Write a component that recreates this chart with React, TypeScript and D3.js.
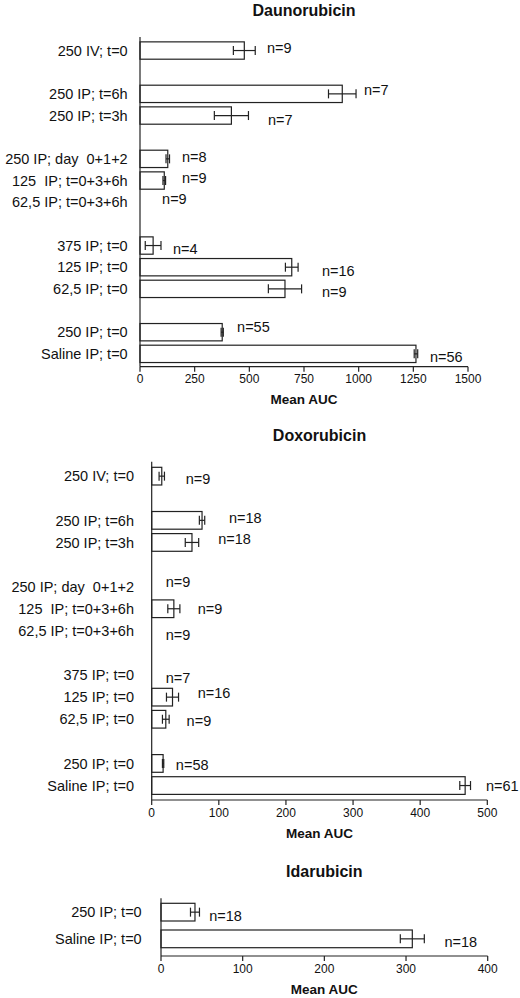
import React from "react";
import * as d3 from "d3";

// ---------- DATA ----------
const treatmentCategories = [
  "250 IV; t=0",
  "250 IP; t=6h",
  "250 IP; t=3h",
  "250 IP; day  0+1+2",
  "125  IP; t=0+3+6h",
  "62,5 IP; t=0+3+6h",
  "375 IP; t=0",
  "125 IP; t=0",
  "62,5 IP; t=0",
  "250 IP; t=0",
  "Saline IP; t=0",
];
const treatmentGroups = [0, 1, 1, 2, 2, 2, 3, 3, 3, 4, 4];

const dauMean = [477, 925, 418, 127, 111, null, 60, 694, 663, 376, 1262];
const dauErr = [50, 63, 78, 8, 6, null, 36, 29, 76, 5, 8];
const dauN = [9, 7, 7, 8, 9, 9, 4, 16, 9, 55, 56];
const dauNAnchor = [581, 1024, 585, 192, 192, 101, 151, 832, 832, 444, 1326];
const dauNShift = [-2.5, -4, 4.5, -2, -2.5, -3, 3.5, 3.5, 3, -5.5, 3];
const dauTicks = [0, 250, 500, 750, 1000, 1250, 1500];

const doxMean = [15, 75, 60, null, 33, null, null, 31, 21, 17, 467];
const doxErr = [4, 4, 10, null, 9, null, null, 9, 5, 1, 8];
const doxN = [9, 18, 18, 9, 9, 9, 7, 16, 9, 58, 61];
const doxNAnchor = [50.7, 115, 99, 21, 68.5, 21, 21, 68.5, 52, 36, 498];
const doxNShift = [3, -3, -4, -4.5, 0.5, 4, 3, -4, 2, 1, 0];
const doxTicks = [0, 100, 200, 300, 400, 500];

const idaCategories = ["250 IP; t=0", "Saline IP; t=0"];
const idaGroups = [0, 0];
const idaMean = [41.6, 307.7];
const idaErr = [5.5, 14.7];
const idaN = [18, 18];
const idaNAnchor = [59, 347];
const idaNShift = [4, 3];
const idaTicks = [0, 100, 200, 300, 400];

// ---------- LAYOUT ----------
const FONT = "'Liberation Sans', Arial, Helvetica, sans-serif";
const INK = "#222";

type PanelProps = {
  title: string;
  categories: string[];
  groups: number[];
  mean: (number | null)[];
  err: (number | null)[];
  n: number[];
  nAnchor: number[];
  nShift: number[];
  ticks: number[];
  xRange: [number, number];
  bandRange: [number, number];
  axisTop: number;
  axisY: number;
  labelRight: number;
  padInner: number;
};

function Panel(p: PanelProps) {
  const x = d3
    .scaleLinear()
    .domain([p.ticks[0], p.ticks[p.ticks.length - 1]])
    .range(p.xRange);
  const slotKeys = p.categories.map((_, i) => String(i + p.groups[i]));
  const nSlots = p.categories.length + p.groups[p.groups.length - 1];
  const y = d3
    .scaleBand<string>()
    .domain(d3.range(nSlots).map(String))
    .range(p.bandRange)
    .paddingInner(p.padInner)
    .paddingOuter(p.padInner / 2);
  const bw = y.bandwidth();
  const cap = 9;
  const x0 = p.xRange[0];
  const xMid = (p.xRange[0] + p.xRange[1]) / 2;

  return (
    <g>
      <text
        x={xMid}
        y={p.axisTop - 21}
        textAnchor="middle"
        fontWeight="bold"
        fontSize={16}
        fill="#111"
      >
        {p.title}
      </text>
      {/* category labels */}
      {p.categories.map((c, i) => (
        <text
          key={"l" + i}
          x={p.labelRight}
          y={(y(slotKeys[i]) as number) + bw / 2}
          dy="0.36em"
          textAnchor="end"
          fontSize={14.5}
          fill="#111"
          style={{ whiteSpace: "pre" }}
        >
          {c}
        </text>
      ))}
      {/* bars */}
      {p.mean.map((m, i) =>
        m == null ? null : (
          <rect
            key={"b" + i}
            x={x(0)}
            y={y(slotKeys[i])}
            width={x(m) - x(0)}
            height={bw}
            fill="#fff"
            stroke={INK}
            strokeWidth={1.2}
          />
        )
      )}
      {/* error bars */}
      {p.mean.map((m, i) => {
        const e = p.err[i];
        if (m == null || e == null) return null;
        const cy = (y(slotKeys[i]) as number) + bw / 2;
        return (
          <g key={"e" + i} stroke={INK} strokeWidth={1.2}>
            <line x1={x(m - e)} x2={x(m + e)} y1={cy} y2={cy} />
            <line x1={x(m - e)} x2={x(m - e)} y1={cy - cap / 2} y2={cy + cap / 2} />
            <line x1={x(m + e)} x2={x(m + e)} y1={cy - cap / 2} y2={cy + cap / 2} />
          </g>
        );
      })}
      {/* n labels */}
      {p.n.map((v, i) => (
        <text
          key={"n" + i}
          x={x(p.nAnchor[i])}
          y={(y(slotKeys[i]) as number) + bw / 2 + p.nShift[i]}
          dy="0.36em"
          fontSize={14.5}
          fill="#111"
        >
          {"n=" + v}
        </text>
      ))}
      {/* axes */}
      <line x1={x0} x2={x0} y1={p.axisTop} y2={p.axisY} stroke={INK} strokeWidth={1.2} />
      <line
        x1={x0}
        x2={p.xRange[1]}
        y1={p.axisY}
        y2={p.axisY}
        stroke={INK}
        strokeWidth={1.2}
      />
      {p.ticks.map((t) => (
        <g key={"t" + t}>
          <line
            x1={x(t)}
            x2={x(t)}
            y1={p.axisY}
            y2={p.axisY + 5}
            stroke={INK}
            strokeWidth={1.2}
          />
          <text
            x={x(t)}
            y={p.axisY + 16.5}
            textAnchor="middle"
            fontSize={12}
            fill="#111"
          >
            {t}
          </text>
        </g>
      ))}
      <text
        x={xMid}
        y={p.axisY + 37.5}
        textAnchor="middle"
        fontWeight="bold"
        fontSize={13.5}
        fill="#111"
      >
        Mean AUC
      </text>
    </g>
  );
}

export default function App() {
  return (
    <svg
      width={520}
      height={998}
      style={{ position: "absolute", left: 0, top: 0, background: "#fff" }}
      fontFamily={FONT}
    >
      <rect width={520} height={998} fill="#fff" />
      <Panel
        title="Daunorubicin"
        categories={treatmentCategories}
        groups={treatmentGroups}
        mean={dauMean}
        err={dauErr}
        n={dauN}
        nAnchor={dauNAnchor}
        nShift={dauNShift}
        ticks={dauTicks}
        xRange={[140, 468]}
        bandRange={[39.7, 364.7]}
        axisTop={37}
        axisY={366.7}
        labelRight={127.7}
        padInner={0.2}
      />
      <Panel
        title="Doxorubicin"
        categories={treatmentCategories}
        groups={treatmentGroups}
        mean={doxMean}
        err={doxErr}
        n={doxN}
        nAnchor={doxNAnchor}
        nShift={doxNShift}
        ticks={doxTicks}
        xRange={[151.7, 487.3]}
        bandRange={[465.1, 796.6]}
        axisTop={461.7}
        axisY={800}
        labelRight={134}
        padInner={0.2}
      />
      <Panel
        title="Idarubicin"
        categories={idaCategories}
        groups={idaGroups}
        mean={idaMean}
        err={idaErr}
        n={idaN}
        nAnchor={idaNAnchor}
        nShift={idaNShift}
        ticks={idaTicks}
        xRange={[161, 487.7]}
        bandRange={[898.8, 952.2]}
        axisTop={898.3}
        axisY={956}
        labelRight={141.7}
        padInner={0.337}
      />
    </svg>
  );
}
